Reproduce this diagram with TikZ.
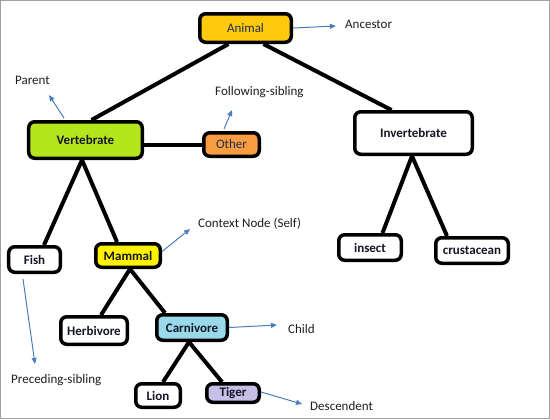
\documentclass[tikz,border=0pt]{standalone}
\usepackage{fontspec}
\setmainfont{Carlito}
\usetikzlibrary{arrows.meta}

\definecolor{animalfill}{RGB}{255,201,14}
\definecolor{vertfill}{RGB}{181,230,29}
\definecolor{otherfill}{RGB}{250,157,66}
\definecolor{mammalfill}{RGB}{255,242,0}
\definecolor{carnfill}{RGB}{153,217,234}
\definecolor{tigerfill}{RGB}{200,191,231}
\definecolor{navytext}{RGB}{31,45,80}
\definecolor{boxtext}{RGB}{20,22,36}
\definecolor{tagtext}{RGB}{30,30,30}
\definecolor{arrowblue}{RGB}{74,126,187}
\definecolor{framegray}{RGB}{160,160,160}

\tikzset{
  box/.style={draw=black, line width=3.5bp, rounded corners=6bp, inner sep=0pt,
    font=\fontsize{13bp}{15bp}\selectfont\bfseries, text=boxtext},
  plainbox/.style={box, font=\fontsize{13bp}{15bp}\selectfont, text=navytext},
  branch/.style={line width=4bp},
  pointer/.style={draw=arrowblue, line width=1bp, -{Triangle[length=6bp,width=5bp]}},
  tag/.style={anchor=west, inner sep=0pt, text=tagtext,
    font=\fontsize{13bp}{15bp}\selectfont},
}

\begin{document}
\begin{tikzpicture}[x=1bp, y=-1bp] % pixel units, y downwards

        % Define the working area (reference size in pixels)
        \def\picwidth{550}
        \def\picheight{419}

        \useasboundingbox (0,0) rectangle (\picwidth,\picheight);
        \fill[white] (0,0) rectangle (\picwidth,\picheight);
        \draw[framegray, line width=1bp] (0.5,0.5) rectangle (\picwidth-0.5,\picheight-0.5); % Frame

        % Tree boxes
        \node[plainbox, fill=animalfill, minimum width=91.5bp, minimum height=28.5bp] (Animal) at (245.5,28) {Animal};
        \node[box, fill=vertfill, minimum width=113.5bp, minimum height=36.5bp] (Vertebrate) at (85.5,140) {Vertebrate};
        \node[plainbox, fill=otherfill, minimum width=55.5bp, minimum height=23.5bp] (Other) at (231.5,144.5) {Other};
        \node[box, fill=white, minimum width=117.5bp, minimum height=42.5bp] (Invertebrate) at (413.5,133) {Invertebrate};
        \node[box, fill=white, minimum width=51.5bp, minimum height=25.5bp] (Fish) at (34.5,259.5) {Fish};
        \node[box, fill=mammalfill, minimum width=64.5bp, minimum height=23.5bp] (Mammal) at (128,255.5) {Mammal};
        \node[box, fill=white, minimum width=62.5bp, minimum height=25.5bp] (insect) at (370,247.5) {insect};
        \node[box, fill=white, minimum width=72.5bp, minimum height=25.5bp] (crustacean) at (472,250.5) {crustacean};
        \node[box, fill=white, minimum width=66.5bp, minimum height=27.5bp] (Herbivore) at (94,330.5) {Herbivore};
        \node[box, fill=carnfill, minimum width=70.5bp, minimum height=25.5bp] (Carnivore) at (192,327.5) {Carnivore};
        \node[box, fill=white, minimum width=44.5bp, minimum height=23.5bp] (Lion) at (158,395.5) {Lion};
        \node[box, fill=tigerfill, minimum width=52.5bp, minimum height=18.5bp] (Tiger) at (233,393) {Tiger};

        % Fork points under the parents
        \coordinate (Vertebrate fork) at ([xshift=-3.5bp]Vertebrate.south);
        \coordinate (Invertebrate fork) at ([xshift=-1.5bp]Invertebrate.south);
        \coordinate (Mammal fork) at ([xshift=2bp]Mammal.south);
        \coordinate (Carnivore fork) at ([xshift=-3bp]Carnivore.south);

        % Branches
        \draw[branch] ([xshift=-17bp]Animal.south) -- ([xshift=6bp]Vertebrate.north);
        \draw[branch] ([xshift=18bp]Animal.south) -- ([xshift=-22bp]Invertebrate.north);
        \draw[branch] (Vertebrate.east |- Other.west) -- (Other.west);
        \foreach \child/\dx in {Fish/9.5, Mammal/-11}
            \draw[branch] (Vertebrate fork) -- ([xshift=\dx bp]\child.north);
        \foreach \child/\dx in {insect/12.5, crustacean/-25}
            \draw[branch] (Invertebrate fork) -- ([xshift=\dx bp]\child.north);
        \foreach \child/\dx in {Herbivore/7, Carnivore/-27}
            \draw[branch] (Mammal fork) -- ([xshift=\dx bp]\child.north);
        \foreach \child/\dx in {Lion/5, Tiger/-11}
            \draw[branch] (Carnivore fork) -- ([xshift=\dx bp]\child.north);

        % Axis names
        \node[tag] (Ancestor) at (345,24) {Ancestor};
        \node[tag] (Parent) at (15,80) {Parent};
        \node[tag] (Following) at (215,92) {Following-sibling};
        \node[tag] (Self) at (198,224) {Context Node (Self)};
        \node[tag] (Preceding) at (11,380) {Preceding-sibling};
        \node[tag] (Child) at (288,329) {Child};
        \node[tag] (Descendent) at (310,406) {Descendent};

        % Arrow tips next to the names
        \coordinate (Ancestor tip) at (336,26);
        \coordinate (Parent tip) at (49,95);
        \coordinate (Following tip) at (232,110);
        \coordinate (Self tip) at (190,229);
        \coordinate (Preceding tip) at (35,364);
        \coordinate (Child tip) at (277,325);
        \coordinate (Descendent tip) at (302,404);

        % Pointers
        \draw[pointer] (Animal.east) -- (Ancestor tip);
        \draw[pointer] ([xshift=-21.5bp,yshift=2bp]Vertebrate.north) -- (Parent tip);
        \draw[pointer] ([xshift=-7.5bp,yshift=2bp]Other.north) -- (Following tip);
        \draw[pointer] ([yshift=4bp]Mammal.east) -- (Self tip);
        \draw[pointer] ([xshift=-11.5bp,yshift=-5bp]Fish.south) -- (Preceding tip);
        \draw[pointer] (Carnivore.east) -- (Child tip);
        \draw[pointer] ([yshift=1bp]Tiger.east) -- (Descendent tip);

    \end{tikzpicture}
\end{document}
